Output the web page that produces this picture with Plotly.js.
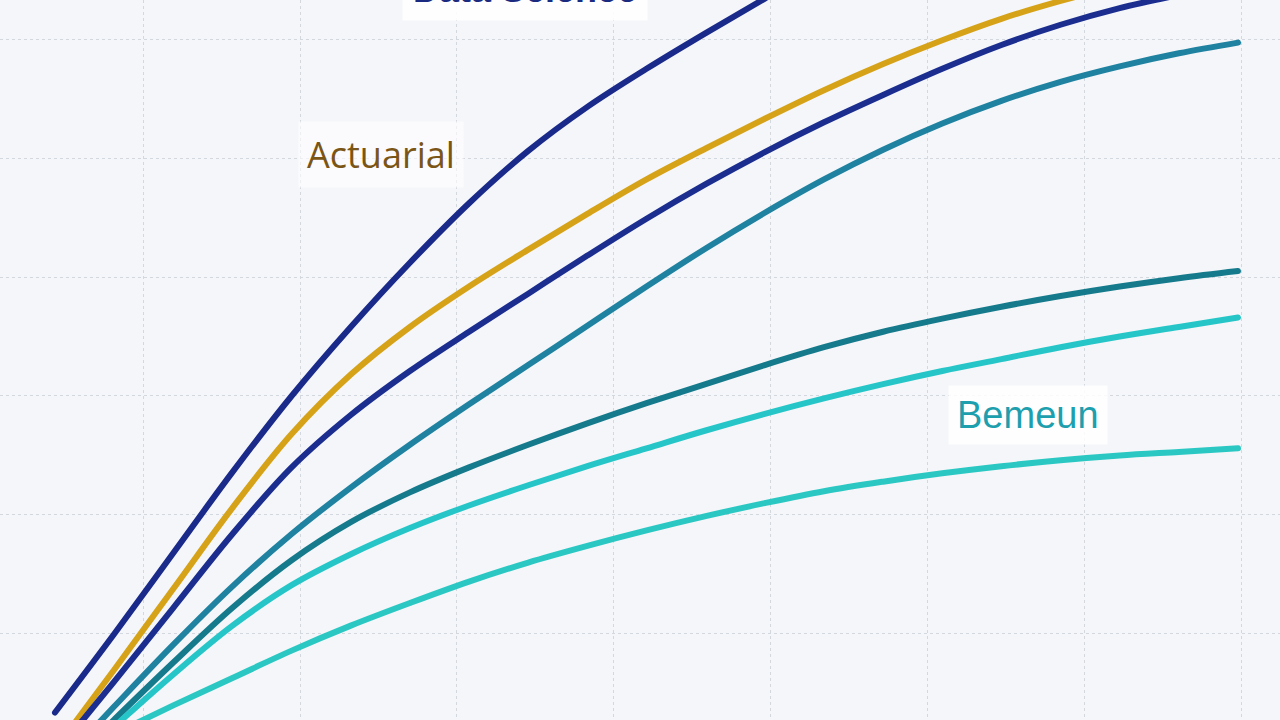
<!DOCTYPE html>
<html>
<head>
<meta charset="utf-8">
<script src="https://cdn.plot.ly/plotly-3.0.1.min.js"></script>
<style>
html,body{margin:0;padding:0;background:#f4f6f9;}
#chart{width:1280px;height:720px;}
.scatterlayer path.js-line{stroke-linecap:round;stroke-linejoin:round;}
</style>
</head>
<body>
<div id="chart"></div>
<script>
// Shared x positions (years, half-year steps)
var years = [0, 0.5, 1, 1.5, 2, 2.5, 3, 3.5, 4, 4.5, 5, 5.5, 6, 6.5, 7, 7.5, 8, 8.5, 9, 9.5, 10];

// Series values
var dataScience = [3.4, 10.0, 16.8, 23.6, 30.0, 35.8, 41.2, 46.2, 50.6, 54.3, 57.5, 60.5, 63.4, 66.2, 68.8, 71.2, 73.5, 75.6, 77.5, 79.3, 81.0];
var actuarial   = [0.3, 7.0, 13.8, 20.6, 26.8, 31.8, 35.8, 39.2, 42.3, 45.3, 48.2, 50.8, 53.3, 55.7, 57.9, 59.9, 61.7, 63.2, 64.5, 65.7, 66.9];
var navySeries  = [-0.1, 6.0, 12.2, 18.4, 24.0, 28.4, 32.1, 35.4, 38.6, 41.8, 44.9, 47.8, 50.5, 53.0, 55.3, 57.5, 59.5, 61.2, 62.6, 63.7, 64.7];
var blueSeries  = [-1.4, 3.9, 9.1, 14.0, 18.4, 22.3, 25.9, 29.3, 32.6, 35.9, 39.2, 42.4, 45.4, 48.2, 50.7, 52.9, 54.8, 56.4, 57.7, 58.8, 59.7];
var tealSeries  = [-2.1, 2.8, 7.6, 12.2, 16.2, 19.4, 21.9, 24.0, 25.9, 27.7, 29.4, 31.0, 32.6, 34.1, 35.4, 36.5, 37.5, 38.4, 39.2, 39.9, 40.5];
var cyanSeries  = [-2.3, 2.2, 6.6, 10.7, 14.1, 16.7, 18.9, 20.8, 22.5, 24.1, 25.6, 27.1, 28.5, 29.8, 31.0, 32.1, 33.1, 34.1, 35.0, 35.8, 36.6];
var bemeun      = [-0.8, 1.6, 4.0, 6.3, 8.6, 10.7, 12.6, 14.4, 16.0, 17.4, 18.7, 19.9, 21.0, 22.0, 22.8, 23.5, 24.1, 24.6, 25.0, 25.3, 25.6];

var seriesNames  = ["Data Science", "Actuarial", "Series 3", "Series 4", "Series 5", "Series 6", "Bemeun"];
var seriesValues = [dataScience, actuarial, navySeries, blueSeries, tealSeries, cyanSeries, bemeun];
var seriesColors = ["#1a2a8a", "#d6a218", "#1b2e90", "#1f82a0", "#157a8c", "#26c6c8", "#2bc8c3"];

var traces = seriesValues.map(function (vals, i) {
  return {
    x: years,
    y: vals,
    name: seriesNames[i],
    type: "scatter",
    mode: "lines",
    line: {color: seriesColors[i], width: 6, shape: "spline", smoothing: 1},
    hoverinfo: "skip"
  };
});

var layout = {
  width: 1280,
  height: 720,
  margin: {l: 0, r: 0, t: 0, b: 0},
  paper_bgcolor: "#f4f6f9",
  plot_bgcolor: "#f4f6f9",
  showlegend: false,
  xaxis: {
    range: [-0.465, 10.355],
    showticklabels: false,
    zeroline: false,
    showline: false,
    showgrid: true,
    gridcolor: "#d3d8df",
    griddash: "dot",
    gridwidth: 1,
    tick0: 0.744,
    dtick: 1.327,
    ticks: ""
  },
  yaxis: {
    range: [2.77, 63.28],
    showticklabels: false,
    zeroline: false,
    showline: false,
    showgrid: true,
    gridcolor: "#d3d8df",
    griddash: "dot",
    gridwidth: 1,
    tick0: 0,
    dtick: 10,
    ticks: ""
  },
  annotations: [
    {
      xref: "paper", yref: "paper", x: 0.41, y: 1.0139,
      xanchor: "center", yanchor: "middle",
      text: "<b>Data Science</b>", showarrow: false,
      font: {family: "Liberation Sans, Arial, sans-serif", size: 36, color: "#1a2a80"},
      bgcolor: "rgba(255,255,255,0.9)", borderpad: 10
    },
    {
      xref: "paper", yref: "paper", x: 0.2977, y: 0.785,
      xanchor: "center", yanchor: "middle",
      text: "Actuarial", showarrow: false,
      font: {family: "Open Sans, sans-serif", size: 36, color: "#7a5515"},
      bgcolor: "rgba(255,255,255,0.6)", borderpad: 8
    },
    {
      xref: "paper", yref: "paper", x: 0.803, y: 0.4236,
      xanchor: "center", yanchor: "middle",
      text: "Bemeun", showarrow: false,
      font: {family: "Liberation Sans, Arial, sans-serif", size: 38, color: "#1e9fae"},
      bgcolor: "rgba(255,255,255,0.85)", borderpad: 8
    }
  ]
};

Plotly.newPlot("chart", traces, layout, {staticPlot: true, displayModeBar: false});
</script>
</body>
</html>
